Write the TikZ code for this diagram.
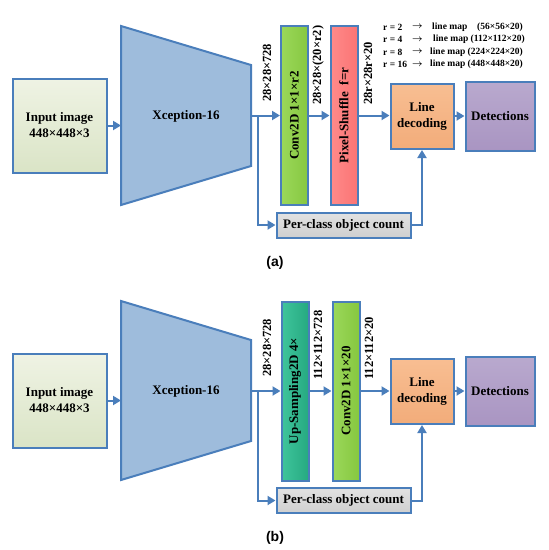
\documentclass[tikz,border=0pt]{standalone}
\usepackage{amsmath}
\usepackage{fontspec}
\setmainfont{Liberation Serif}
\newfontfamily\labsans{Liberation Sans}
\usetikzlibrary{arrows.meta}
\definecolor{bordc}{HTML}{4A7EBB}
\definecolor{inTop}{HTML}{EFF3E4}
\definecolor{inBot}{HTML}{DAE4C6}
\definecolor{xcFill}{HTML}{9EBCDC}
\definecolor{grL}{HTML}{9BD85A}
\definecolor{grR}{HTML}{86C740}
\definecolor{pkL}{HTML}{FF8A8A}
\definecolor{pkR}{HTML}{FA7474}
\definecolor{orT}{HTML}{F8BE92}
\definecolor{orB}{HTML}{F2AC7A}
\definecolor{puT}{HTML}{B9A9CE}
\definecolor{puB}{HTML}{A995C2}
\definecolor{gyT}{HTML}{E2E2E2}
\definecolor{gyB}{HTML}{CFCFCF}
\definecolor{tlL}{HTML}{40C59C}
\definecolor{tlR}{HTML}{25A981}
\tikzset{
  box/.style={draw=bordc, line width=2pt, inner sep=0pt, align=center, font=\bfseries\fontsize{13}{16}\selectfont},
  arr/.style={draw=bordc, line width=2pt, -{Triangle[length=8pt,width=9pt]}},
  xcep/.style={draw=bordc, line width=2pt, fill=xcFill},
  dimlab/.style={rotate=90, anchor=west, inner sep=0pt, font=\bfseries\fontsize{12.5}{14}\selectfont},
  rtxt/.style={anchor=west, inner sep=0pt, font=\bfseries\fontsize{9.5}{11}\selectfont},
  captxt/.style={font=\labsans\bfseries\fontsize{14}{16}\selectfont, inner sep=0pt}
}
\newcommand{\rar}{\(\boldsymbol{\rightarrow}\)}
\begin{document}
\begin{tikzpicture}[x=1pt,y=-1pt]
\useasboundingbox (0,0) rectangle (549,550);
\fill[white] (0,0) rectangle (549,550);

% ================= Panel (a) =================
\node[box, top color=inTop, bottom color=inBot, minimum width=94pt, minimum height=94pt] (inA) at (59.5,125.5) {Input image\\448×448×3};
\draw[xcep] (121,26) -- (251,65) -- (251,166) -- (121,205) -- cycle;
\node[font=\bfseries\fontsize{13}{15}\selectfont, inner sep=0pt] (xcA) at (186,116) {Xception-16};
\coordinate (xcLA) at (121,125.5);
\coordinate (xcRA) at (251,115.5);
\coordinate (brA) at (258,115.5);
\node[box, left color=grL, right color=grR, minimum width=27pt, minimum height=179pt] (convA) at (294.5,115.5) {\rotatebox{90}{Conv2D 1×1×r2}};
\node[box, left color=pkL, right color=pkR, minimum width=27pt, minimum height=179pt] (pixA) at (344,115.5) {\rotatebox{90}{Pixel-Shuffle\ \ f=r}};
\node[box, top color=orT, bottom color=orB, minimum width=63pt, minimum height=65pt] (lineA) at (422,116.5) {Line\\decoding};
\node[box, top color=puT, bottom color=puB, minimum width=69pt, minimum height=69pt] (detA) at (500,116) {Detections};
\node[box, top color=gyT, bottom color=gyB, minimum width=134pt, minimum height=25pt] (pcA) at (343.5,225) {Per-class object count};

\draw[arr] (inA.east) -- (xcLA);
\draw[arr] (xcRA) -- (convA.west);
\draw[arr] (brA) |- (pcA.west);
\draw[arr] (convA.east) -- (pixA.west);
\draw[arr] (pixA.east) -- (lineA.west |- pixA.east);
\draw[arr] (lineA.east |- detA.west) -- (detA.west);
\draw[arr] (pcA.east) -| (lineA.south);

\node[dimlab] (dA1) at (267,102) {28×28×728};
\node[dimlab] (dA2) at (318,105) {28×28×(20×r2)};
\node[dimlab] (dA3) at (368,105) {28r×28r×20};

\node[rtxt] (r1a) at (383,27) {r = 2};
\node[rtxt] (r1b) at (412,27) {\rar};
\node[rtxt] (r1c) at (432,27) {line map};
\node[rtxt] (r1d) at (477,27) {(56×56×20)};
\node[rtxt] (r2a) at (383,39.5) {r = 4};
\node[rtxt] (r2b) at (412,39.5) {\rar};
\node[rtxt] (r2c) at (433,39.5) {line map (112×112×20)};
\node[rtxt] (r3a) at (383,52) {r = 8};
\node[rtxt] (r3b) at (412,52) {\rar};
\node[rtxt] (r3c) at (430,52) {line map (224×224×20)};
\node[rtxt] (r4a) at (383,64.5) {r = 16};
\node[rtxt] (r4b) at (412,64.5) {\rar};
\node[rtxt] (r4c) at (430,64.5) {line map (448×448×20)};

\node[captxt] (capA) at (275,263) {(a)};

% ================= Panel (b) =================
\node[box, top color=inTop, bottom color=inBot, minimum width=94pt, minimum height=94pt] (inB) at (59.5,400.5) {Input image\\448×448×3};
\draw[xcep] (121,301) -- (251,340) -- (251,441) -- (121,480) -- cycle;
\node[font=\bfseries\fontsize{13}{15}\selectfont, inner sep=0pt] (xcB) at (186,391) {Xception-16};
\coordinate (xcLB) at (121,400.5);
\coordinate (xcRB) at (251,391);
\coordinate (brB) at (258,391);
\node[box, left color=tlL, right color=tlR, minimum width=27pt, minimum height=179pt] (upB) at (295,391) {\rotatebox{90}{Up-Sampling2D 4×}};
\node[box, left color=grL, right color=grR, minimum width=27pt, minimum height=179pt] (convB) at (346,391) {\rotatebox{90}{Conv2D 1×1×20}};
\node[box, top color=orT, bottom color=orB, minimum width=63pt, minimum height=65pt] (lineB) at (422,391.5) {Line\\decoding};
\node[box, top color=puT, bottom color=puB, minimum width=69pt, minimum height=69pt] (detB) at (500,391) {Detections};
\node[box, top color=gyT, bottom color=gyB, minimum width=134pt, minimum height=25pt] (pcB) at (343.5,500.5) {Per-class object count};

\draw[arr] (inB.east) -- (xcLB);
\draw[arr] (xcRB) -- (upB.west);
\draw[arr] (brB) |- (pcB.west);
\draw[arr] (upB.east) -- (convB.west);
\draw[arr] (convB.east) -- (lineB.west |- convB.east);
\draw[arr] (lineB.east |- detB.west) -- (detB.west);
\draw[arr] (pcB.east) -| (lineB.south);

\node[dimlab] (dB1) at (267,377) {28×28×728};
\node[dimlab] (dB2) at (318,380) {112×112×728};
\node[dimlab] (dB3) at (369,380) {112×112×20};

\node[captxt] (capB) at (275,538) {(b)};
\end{tikzpicture}
\end{document}
